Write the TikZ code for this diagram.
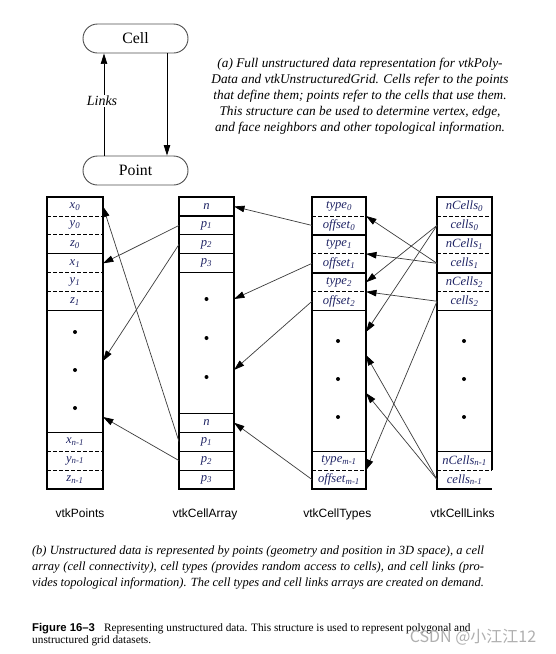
\documentclass[tikz,border=0pt]{standalone}
\usepackage{fontspec}
\setmainfont{Liberation Serif}
\setsansfont{Liberation Sans}
\newfontfamily\cjkfont{Noto Sans CJK SC}
\usetikzlibrary{arrows.meta,calc}
\definecolor{labblue}{RGB}{30,35,100}
\definecolor{linkgray}{RGB}{60,60,60}
\definecolor{boxgray}{RGB}{80,80,80}
\definecolor{wmark}{RGB}{175,175,175}
\newcommand{\lab}[2]{\textit{#1}\textsubscript{\textit{#2}}}
\tikzset{
  cellrow/.style={minimum height=18.95pt, inner sep=0pt, outer sep=0pt, text=labblue, font=\fontsize{12.6}{14}\selectfont},
  rowP/.style={cellrow, minimum width=56pt},
  rowA/.style={cellrow, minimum width=55pt},
  rowT/.style={cellrow, minimum width=54pt},
  rowL/.style={cellrow, minimum width=55pt},
  frame/.style={line width=1.1pt, black},
  thickline/.style={line width=2.2pt, black},
  dashline/.style={line width=0.9pt, black, dash pattern=on 3.5pt off 2.5pt},
  dotnode/.style={circle, fill=black, minimum size=4pt, inner sep=0pt},
  linkarrow/.style={draw=linkgray, line width=0.7pt, -{Triangle[length=10.5pt,width=6.5pt,color=black]}},
  topbox/.style={draw=boxgray, line width=0.9pt, rounded corners=14.5pt, minimum width=105pt, minimum height=29pt, inner sep=0pt, font=\fontsize{15.8}{18}\selectfont},
  collabel/.style={font=\sffamily\fontsize{12}{14}\selectfont, inner sep=0pt, anchor=base},
}
\begin{document}
\begin{tikzpicture}[x=1pt,y=-1pt]
\useasboundingbox[fill=white] (0,0) rectangle (556,654);

% ---------- top part ----------
\node[topbox] (Cell) at (135.5,38.5) {Cell};
\node[topbox] (Point) at (135.5,170.5) {Point};
\draw[linkarrow, draw=black] ([xshift=-31.5pt]Point.north) -- ([xshift=-31.5pt]Cell.south);
\draw[linkarrow, draw=black] ([xshift=31.5pt]Cell.south) -- ([xshift=31.5pt]Point.north);
\node[fill=white, inner sep=1pt, font=\fontsize{14}{16}\selectfont\itshape] (Links) at (102,101) {Links};

\node[font=\fontsize{13.3}{16.1}\selectfont\itshape, align=center, inner sep=0pt] (capA) at (360,96.3)
 {(a) Full unstructured data representation for vtkPoly-\\Data and vtkUnstructuredGrid. Cells refer to the points\\that define them; points refer to the cells that use them.\\This structure can be used to determine vertex, edge,\\and face neighbors and other topological information.};

% ---------- vtkPoints ----------
\node[rowP] (P-x0) at (75,206.48) {\lab{x}{0}};
\node[rowP] (P-y0) at (75,225.43) {\lab{y}{0}};
\node[rowP] (P-z0) at (75,244.38) {\lab{z}{0}};
\node[rowP] (P-x1) at (75,263.33) {\lab{x}{1}};
\node[rowP] (P-y1) at (75,282.28) {\lab{y}{1}};
\node[rowP] (P-z1) at (75,301.23) {\lab{z}{1}};
\node[rowP] (P-xm) at (75,441.63) {\lab{x}{n-1}};
\node[rowP] (P-ym) at (75,460.58) {\lab{y}{n-1}};
\node[rowP] (P-zm) at (75,479.53) {\lab{z}{n-1}};
\node[dotnode] (P-d1) at (75,332) {};
\node[dotnode] (P-d2) at (75,370) {};
\node[dotnode] (P-d3) at (75,408) {};
\draw[frame] (P-x0.north west) rectangle (P-zm.south east);
\draw[thickline] (P-x0.north west) -- (P-x0.north east);
\draw[thickline] (P-zm.south west) -- (P-zm.south east);
\foreach \n in {z0,z1} \draw[frame] (P-\n.south west) -- (P-\n.south east);
\draw[frame] (P-xm.north west) -- (P-xm.north east);
\foreach \n in {x0,y0,x1,y1,xm,ym} \draw[dashline] (P-\n.south west) -- (P-\n.south east);

% ---------- vtkCellArray ----------
\node[rowA] (A-n) at (206.5,206.48) {\textit{n}};
\node[rowA] (A-p1) at (206.5,225.43) {\lab{p}{1}};
\node[rowA] (A-p2) at (206.5,244.38) {\lab{p}{2}};
\node[rowA] (A-p3) at (206.5,263.33) {\lab{p}{3}};
\node[rowA] (A-nb) at (206.5,422.68) {\textit{n}};
\node[rowA] (A-p1b) at (206.5,441.63) {\lab{p}{1}};
\node[rowA] (A-p2b) at (206.5,460.58) {\lab{p}{2}};
\node[rowA] (A-p3b) at (206.5,479.53) {\lab{p}{3}};
\node[dotnode] (A-d1) at (206.5,299) {};
\node[dotnode] (A-d2) at (206.5,338) {};
\node[dotnode] (A-d3) at (206.5,377) {};
\draw[frame] (A-n.north west) rectangle (A-p3b.south east);
\draw[thickline] (A-n.north west) -- (A-n.north east);
\draw[thickline] (A-p3b.south west) -- (A-p3b.south east);
\foreach \n in {n,p1,p2,p3,nb,p1b,p2b} \draw[frame] (A-\n.south west) -- (A-\n.south east);
\draw[frame] (A-nb.north west) -- (A-nb.north east);

% ---------- vtkCellTypes ----------
\node[rowT] (T-type0) at (339,206.48) {\lab{type}{0}};
\node[rowT] (T-off0) at (339,225.43) {\lab{offset}{0}};
\node[rowT] (T-type1) at (339,244.38) {\lab{type}{1}};
\node[rowT] (T-off1) at (339,263.33) {\lab{offset}{1}};
\node[rowT] (T-type2) at (339,282.28) {\lab{type}{2}};
\node[rowT] (T-off2) at (339,301.23) {\lab{offset}{2}};
\node[rowT] (T-typem) at (339,460.58) {\lab{type}{m-1}};
\node[rowT] (T-offm) at (339,479.53) {\lab{offset}{m-1}};
\node[dotnode] (T-d1) at (338,341) {};
\node[dotnode] (T-d2) at (338,379) {};
\node[dotnode] (T-d3) at (338,417) {};
\draw[frame] (T-type0.north west) rectangle (T-offm.south east);
\draw[thickline] (T-type0.north west) -- (T-type0.north east);
\draw[thickline] (T-offm.south west) -- (T-offm.south east);
\foreach \n in {off0,off1} \draw[thickline] (T-\n.south west) -- (T-\n.south east);
\draw[frame] (T-off2.south west) -- (T-off2.south east);
\draw[frame] (T-typem.north west) -- (T-typem.north east);
\foreach \n in {type0,type1,type2,typem} \draw[dashline] (T-\n.south west) -- (T-\n.south east);

% ---------- vtkCellLinks ----------
\node[rowL] (L-nc0) at (464.5,206.48) {\lab{nCells}{0}};
\node[rowL] (L-c0) at (464.5,225.43) {\lab{cells}{0}};
\node[rowL] (L-nc1) at (464.5,244.38) {\lab{nCells}{1}};
\node[rowL] (L-c1) at (464.5,263.33) {\lab{cells}{1}};
\node[rowL] (L-nc2) at (464.5,282.28) {\lab{nCells}{2}};
\node[rowL] (L-c2) at (464.5,301.23) {\lab{cells}{2}};
\node[rowL] (L-ncm) at (464.5,460.58) {\lab{nCells}{n-1}};
\node[rowL] (L-cm) at (464.5,479.53) {\lab{cells}{n-1}};
\node[dotnode] (L-d1) at (464,341) {};
\node[dotnode] (L-d2) at (464,379) {};
\node[dotnode] (L-d3) at (464,417) {};
\draw[frame] (L-cm.north east) -- (L-nc0.north east) -- (L-nc0.north west) -- (L-cm.south west) -- (L-cm.south east);
\draw[thickline] (L-nc0.north west) -- (L-nc0.north east);
\draw[thickline] (L-cm.south west) -- (L-cm.south east);
\foreach \n in {c0,c1} \draw[thickline] (L-\n.south west) -- (L-\n.south east);
\draw[frame] (L-c2.south west) -- (L-c2.south east);
\draw[frame] (L-ncm.north west) -- (L-ncm.north east);
\foreach \n in {nc0,nc1,nc2,ncm} \draw[dashline] (L-\n.south west) -- (L-\n.south east);

% ---------- free arrow ends ----------
\coordinate (P-e1) at (103,361);
\coordinate (P-e2) at (103,417);
\coordinate (A-e1) at (234,299);
\coordinate (A-e2) at (234,370);
\coordinate (T-e1) at (366,332);
\coordinate (T-e2) at (366,355);
\coordinate (T-e3) at (366,393);

% ---------- connectors ----------
\draw[linkarrow] (A-p1.west) -- (P-x1.east);
\draw[linkarrow] (A-p2.west) -- (P-e1);
\draw[linkarrow] (A-p1b.west) -- (P-x0.east);
\draw[linkarrow] (A-p2b.west) -- (P-e2);

\draw[linkarrow] (T-off0.west) -- (A-n.east);
\draw[linkarrow] (T-off1.west) -- (A-e1);
\draw[linkarrow] (T-off2.west) -- (A-e2);
\draw[linkarrow] (T-offm.west) -- (A-nb.east);

\draw[linkarrow] (L-c0.west) -- (T-type2.east);
\draw[linkarrow] (L-c0.west) -- (T-e1);
\draw[linkarrow] (L-c1.west) -- (T-off0.north east);
\draw[linkarrow] (L-c1.west) -- (T-off1.north east);
\draw[linkarrow] (L-c2.west) -- (T-off2.north east);
\draw[linkarrow] (L-c2.west) -- (T-offm.north east);
\draw[linkarrow] (L-cm.west) -- (T-e2);
\draw[linkarrow] (L-cm.west) -- (T-e3);

% ---------- column labels ----------
\node[collabel] (labP) at (80,517) {vtkPoints};
\node[collabel] (labA) at (205,517) {vtkCellArray};
\node[collabel] (labT) at (337.3,517) {vtkCellTypes};
\node[collabel] (labL) at (462.5,517) {vtkCellLinks};

% ---------- caption (b) ----------
\node[font=\fontsize{12.5}{16}\selectfont\itshape, align=left, inner sep=0pt] (capB) at (258,568)
 {\makebox[452pt][s]{(b) Unstructured data is represented by points (geometry and position in 3D space), a cell}\\
  \makebox[452pt][s]{array (cell connectivity), cell types (provides random access to cells), and cell links (pro-}\\
  \makebox[452pt][s]{vides topological information). The cell types and cell links arrays are created on demand.}};

% ---------- figure caption ----------
\node[anchor=base west, inner sep=0pt] (fig1) at (32,631.5)
 {{\sffamily\bfseries\fontsize{11.3}{13}\selectfont Figure 16–3}\hspace{9pt}{\fontsize{11.3}{13}\selectfont Representing unstructured data. This structure is used to represent polygonal and}};
\node[anchor=base west, inner sep=0pt, font=\fontsize{11.3}{13}\selectfont] (fig2) at (32,643) {unstructured grid datasets.};

% ---------- watermark ----------
\node[font=\cjkfont\fontsize{16}{16}\selectfont, text=wmark, inner sep=0pt] (wm) at (473,637) {CSDN @小江江12};
\end{tikzpicture}
\end{document}
